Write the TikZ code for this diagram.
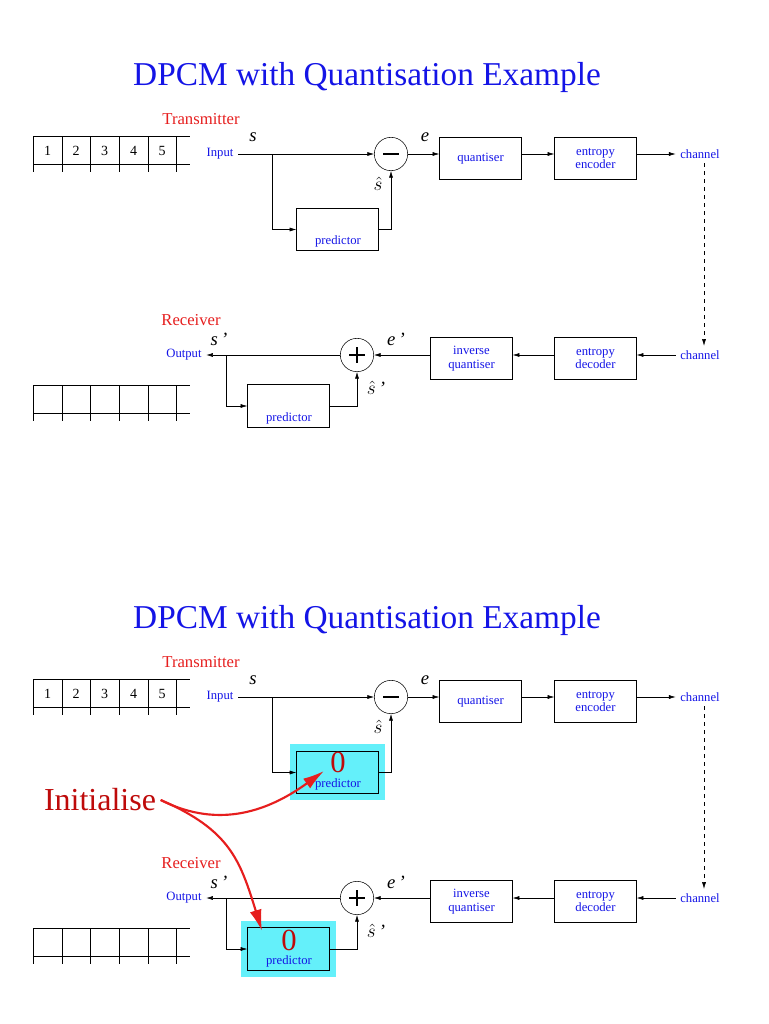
\documentclass[tikz,border=0pt]{standalone}
\usepackage{fontspec}
\setmainfont{Liberation Serif}
\usetikzlibrary{arrows.meta}
\definecolor{tblue}{RGB}{20,20,230}
\definecolor{tred}{RGB}{230,30,30}
\definecolor{dred}{RGB}{190,10,10}
\definecolor{cy}{RGB}{100,240,250}
\begin{document}
\begin{tikzpicture}[x=0.75pt,y=-0.75pt,
  box/.style={draw,thick,minimum width=61pt,minimum height=32pt,inner sep=0,align=center,font=\fontsize{9.5}{10}\selectfont,text=tblue},
  pbox/.style={draw,thick,minimum width=61pt,minimum height=32pt,inner sep=0},
  sum/.style={draw,circle,minimum size=25pt,inner sep=0},
  lab/.style={font=\fontsize{9.5}{10}\selectfont,text=tblue},
  var/.style={font=\fontsize{14}{14}\itshape},
  ar/.style={-{Latex[length=5pt,width=3pt]}},
  ttl/.style={font=\fontsize{25}{26}\selectfont,text=tblue},
  red/.style={font=\fontsize{12.5}{13}\selectfont,text=tred}]
\useasboundingbox (0,0) rectangle (768,1024);
\newcommand{\buf}[1]{%
  \draw (33,#1) -- (190,#1) (33,#1+28) -- (190,#1+28);
  \foreach \x in {33,62,90,119,148,176} \draw (\x,#1) -- (\x,#1+36);
}
\newcommand{\panel}[2]{%
\begin{scope}[shift={(0,#1)}]
\node[ttl] (title#2) at (367,77) {DPCM with Quantisation Example};
\node[red] (tx#2) at (201,119) {Transmitter};
\buf{136}
\foreach \n/\x in {1/47.5,2/76,3/104.5,4/133.5,5/162} \node (n\n#2) at (\x,151) {\fontsize{10.5}{10}\selectfont\n};
\node[lab] (in#2) at (220,154) {Input};
\node[var] (s#2) at (253,137) {s};
\node[sum] (m#2) at (391,154) {};
\draw[line width=1.6pt] (383,154) -- (399,154);
\node[var] (e#2) at (425,137) {e};
\node[pbox] (pt#2) at (337.5,229.5) {};
\node[lab] at (338,241) {predictor};
\node[box] (q#2) at (480.5,158.5) {quantiser};
\node[box] (ee#2) at (595.5,158.5) {entropy\\encoder};
\node[lab] (ch1#2) at (700,154) {channel};
\node[var] at (378,184) {$\hat{s}$};
\coordinate (b1#2) at (272,154);
\draw (in#2.east) -- (b1#2);
\draw[ar] (b1#2) -- (m#2.west);
\draw[ar] (b1#2) |- (pt#2.west);
\draw[ar] (pt#2.east) -| (m#2.south);
\draw[ar] (m#2.east) -- (q#2.west|-m#2);
\draw[ar] (q#2.east|-m#2) -- (ee#2.west|-m#2);
\draw[ar] (ee#2.east|-m#2) -- (ch1#2.west);
\node[red] (rx#2) at (191,320) {Receiver};
\node[lab] (ch2#2) at (700,355) {channel};
\draw[ar,dashed] (ch1#2.south-|704,0) -- (ch2#2.north-|704,0);
\node[box] (ed#2) at (595.5,358.5) {entropy\\decoder};
\node[box] (iq#2) at (471.5,358.5) {inverse\\quantiser};
\node[sum] (p#2) at (357,355) {};
\draw[line width=1.6pt] (349,355) -- (365,355) (357,347) -- (357,363);
\node[var] (e2#2) at (396,339) {e\,'};
\node[lab] (out#2) at (184,355) {Output};
\node[var] (s2#2) at (219,339) {s\,'};
\node[pbox] (pr#2) at (288.5,406) {};
\node[lab] at (289,418) {predictor};
\node[var] at (376,388) {$\hat{s}$\,'};
\draw[ar] (ch2#2.west) -- (ed#2.east|-ch2#2);
\draw[ar] (ed#2.west|-p#2) -- (iq#2.east|-p#2);
\draw[ar] (iq#2.west|-p#2) -- (p#2.east);
\draw[ar] (p#2.west) -- (out#2.east);
\coordinate (b2#2) at (226,355);
\draw[ar] (b2#2) |- (pr#2.west);
\draw[ar] (pr#2.east) -| (p#2.south);
\buf{385}
\end{scope}}
\panel{0}{A}
\fill[cy] (290,744) rectangle (385,800);
\fill[cy] (241,921) rectangle (336,977);
\panel{543}{B}
\node[font=\fontsize{23}{22}\selectfont,text=dred] (z1) at (338,762) {0};
\node[font=\fontsize{23}{22}\selectfont,text=dred] (z2) at (289,940) {0};
\node[font=\fontsize{24}{26}\selectfont,text=dred] (init) at (100,800) {Initialise};
\draw[tred,line width=1.6pt,-{Latex[length=16pt,width=9pt]}] (init.east) .. controls (220,830) and (270,810) .. (324,771);
\draw[tred,line width=1.6pt,-{Latex[length=16pt,width=9pt]}] (init.east) .. controls (230,830) and (240,860) .. (262,931);
\end{tikzpicture}
\end{document}
